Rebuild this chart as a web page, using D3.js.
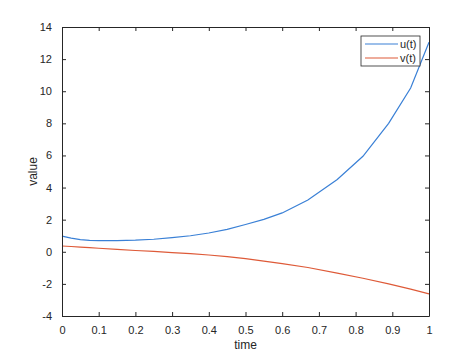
<!DOCTYPE html>
<html>
<head>
<meta charset="utf-8">
<script src="https://cdn.jsdelivr.net/npm/d3@7"></script>
<style>
  body { margin: 0; background: #fff; }
  svg text { font-family: "Liberation Sans", Arial, sans-serif; fill: #262626; }
</style>
</head>
<body>
<div class="chart"></div>
<script>
const times = [0, 0.025, 0.05, 0.075, 0.1, 0.15, 0.2, 0.25, 0.3, 0.35, 0.4, 0.45, 0.5, 0.55, 0.6, 0.67, 0.75, 0.82, 0.89, 0.95, 1];
const uValues = [0.97, 0.85, 0.76, 0.71, 0.69, 0.69, 0.72, 0.78, 0.88, 1.0, 1.17, 1.4, 1.7, 2.02, 2.42, 3.22, 4.5, 5.95, 8.0, 10.2, 13.05];
const vValues = [0.36, 0.33, 0.29, 0.26, 0.22, 0.15, 0.08, 0.02, -0.05, -0.12, -0.2, -0.3, -0.43, -0.58, -0.74, -0.98, -1.33, -1.65, -2.0, -2.33, -2.62];
const xTicks = [0, 0.1, 0.2, 0.3, 0.4, 0.5, 0.6, 0.7, 0.8, 0.9, 1];
const yTicks = [-4, -2, 0, 2, 4, 6, 8, 10, 12, 14];
const seriesNames = ["u(t)", "v(t)"];
const seriesColors = ["#3a80d6", "#de5a38"];

const W = 474, H = 355;
const margin = { top: 27, left: 62, right: 45, bottom: 39 };
const width = W - margin.left - margin.right;
const height = H - margin.top - margin.bottom;

const svg = d3.select(".chart").append("svg")
  .attr("width", W).attr("height", H);
const g = svg.append("g")
  .attr("transform", `translate(${margin.left}, ${margin.top})`);

const xScale = d3.scaleLinear().domain([0, 1]).range([0, width]);
const yScale = d3.scaleLinear().domain([-4, 14]).range([height, 0]);

// lines
const series = [uValues, vValues];
const line = d3.line().x((d, i) => xScale(times[i])).y(d => yScale(d));
series.forEach((vals, k) => {
  g.append("path")
    .datum(vals)
    .attr("fill", "none")
    .attr("stroke", seriesColors[k])
    .attr("stroke-width", 1.2)
    .attr("d", line);
});

// axes (ticks inward, box on all sides)
const tl = -4;
const fmt = d => String(d);
const styleAxis = sel => {
  sel.select(".domain").attr("stroke", "#262626");
  sel.selectAll(".tick line").attr("stroke", "#262626");
  sel.selectAll("text").style("font-size", "11px").attr("fill", "#262626");
};
g.append("g").attr("transform", `translate(0, ${height})`)
  .call(d3.axisBottom(xScale).tickValues(xTicks).tickSize(tl).tickPadding(10).tickSizeOuter(0).tickFormat(fmt))
  .call(styleAxis);
g.append("g")
  .call(d3.axisTop(xScale).tickValues(xTicks).tickSize(tl).tickSizeOuter(0).tickFormat(""))
  .call(styleAxis);
g.append("g")
  .call(d3.axisLeft(yScale).tickValues(yTicks).tickSize(tl).tickPadding(10).tickSizeOuter(0).tickFormat(fmt))
  .call(styleAxis);
g.append("g").attr("transform", `translate(${width}, 0)`)
  .call(d3.axisRight(yScale).tickValues(yTicks).tickSize(tl).tickSizeOuter(0).tickFormat(""))
  .call(styleAxis);
g.selectAll("text").attr("font-family", null);

// axis labels
g.append("text")
  .attr("x", width / 2).attr("y", height + 33)
  .attr("text-anchor", "middle").style("font-size", "12px")
  .text("time");
g.append("text")
  .attr("transform", `translate(${-25}, ${height / 2}) rotate(-90)`)
  .attr("text-anchor", "middle").style("font-size", "12px")
  .text("value");

// legend
const legend = g.append("g").attr("transform", `translate(${width - 68}, 9)`);
legend.append("rect")
  .attr("width", 59).attr("height", 30)
  .attr("fill", "#fff").attr("stroke", "#262626").attr("stroke-width", 0.8);
seriesNames.forEach((name, k) => {
  legend.append("line")
    .attr("x1", 4).attr("x2", 37)
    .attr("y1", 8 + k * 14).attr("y2", 8 + k * 14)
    .attr("stroke", seriesColors[k]).attr("stroke-width", 1.2);
  legend.append("text")
    .attr("x", 39).attr("y", 8 + k * 14).attr("dy", "0.35em")
    .style("font-size", "11px")
    .text(name);
});
</script>
</body>
</html>
